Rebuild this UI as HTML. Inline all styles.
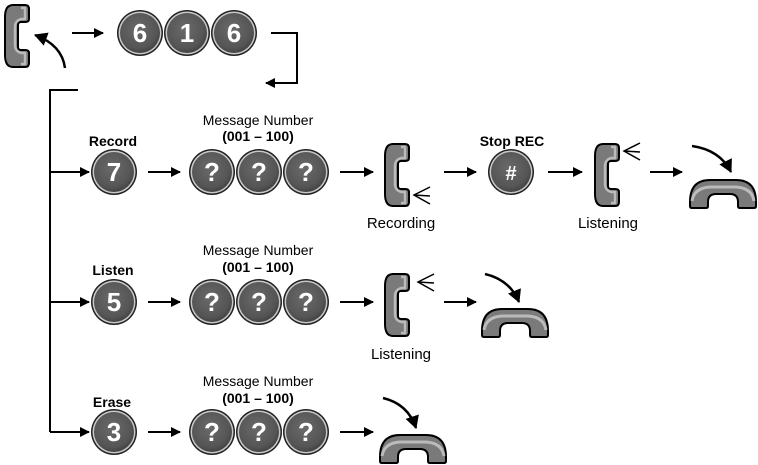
<!DOCTYPE html>
<html><head><style>
html,body{margin:0;padding:0;background:#fff;}
svg{display:block;}
text{font-family:"Liberation Sans",Arial,sans-serif;}
.b{font-weight:bold;font-size:14px;}
.m{font-size:14px;}
.n{font-size:15px;}
.d{font-weight:bold;font-size:26px;fill:#fff;}
</style></head><body>
<svg width="758" height="465" viewBox="0 0 758 465" xmlns="http://www.w3.org/2000/svg">
<defs>
<radialGradient id="g" cx="0.45" cy="0.4" r="0.6">
<stop offset="0" stop-color="#6a6a6a"/><stop offset="0.8" stop-color="#555"/><stop offset="1" stop-color="#444"/>
</radialGradient>
<marker id="ah" markerWidth="10" markerHeight="10" refX="9" refY="5" orient="auto" markerUnits="userSpaceOnUse">
<path d="M0,0 L10,5 L0,10 Z" fill="#000"/></marker>
<marker id="ah2" markerWidth="14" markerHeight="14" refX="12" refY="7" orient="auto" markerUnits="userSpaceOnUse">
<path d="M0,0 L13,7 L0,14 Z" fill="#000"/></marker>
<g id="btn"><circle r="23" fill="#222"/><circle r="21.5" fill="#c8c8c8"/><circle r="20" fill="url(#g)"/></g>
<g id="hs">
<path d="M10,0 H22 Q26,0 26,4 V14 Q26,17 22,17 H18 Q15,17 15,20 V42 Q15,45 18,45 H22 Q26,45 26,48 V58 Q26,62 22,62 H10 Q2,62 2,50 V12 Q2,0 10,0 Z" fill="#7a7a7a" stroke="#000" stroke-width="2"/>
<path d="M18,3 H22 V14 H18 Q12,16 12,22 V40 Q12,46 18,48 H22 V59 H18" fill="none" stroke="#bbb" stroke-width="2.5"/>
</g>
<g id="hu">
<path d="M0,22 Q0,0 20,0 H46 Q66,0 66,22 V26 Q66,28 64,28 H50 Q48,28 48,26 V22 Q48,14 40,14 H26 Q18,14 18,22 V26 Q18,28 16,28 H2 Q0,28 0,26 Z" fill="#7a7a7a" stroke="#000" stroke-width="2"/>
<path d="M2,21 Q4,8 20,7 H46 Q62,8 64,21" fill="none" stroke="#bbb" stroke-width="3"/>
</g>
</defs>

<!-- top -->
<use href="#hs" x="3" y="5"/>
<path d="M65,68 Q62,45 35,35" fill="none" stroke="#000" stroke-width="2.5" marker-end="url(#ah2)"/>
<line x1="72" y1="33" x2="103" y2="33" stroke="#000" stroke-width="2" marker-end="url(#ah)"/>
<use href="#btn" x="140" y="33"/><text class="d" x="140" y="42" text-anchor="middle">6</text>
<use href="#btn" x="187" y="33"/><text class="d" x="187" y="42" text-anchor="middle">1</text>
<use href="#btn" x="234" y="33"/><text class="d" x="234" y="42" text-anchor="middle">6</text>
<polyline points="271,33 297,33 297,83 266,83" fill="none" stroke="#000" stroke-width="2" marker-end="url(#ah)"/>
<polyline points="78,90 50,90 50,432" fill="none" stroke="#000" stroke-width="2"/>

<line x1="50" y1="172" x2="89" y2="172" stroke="#000" stroke-width="2" marker-end="url(#ah)"/>
<line x1="50" y1="302" x2="89" y2="302" stroke="#000" stroke-width="2" marker-end="url(#ah)"/>
<line x1="50" y1="432" x2="89" y2="432" stroke="#000" stroke-width="2" marker-end="url(#ah)"/>

<!-- row 1 -->
<text class="b" x="113" y="146" text-anchor="middle">Record</text>
<use href="#btn" x="114" y="172"/><text class="d" x="114" y="181" text-anchor="middle">7</text>
<line x1="148" y1="172" x2="180" y2="172" stroke="#000" stroke-width="2" marker-end="url(#ah)"/>
<text class="m" x="258" y="125" text-anchor="middle">Message Number</text>
<text class="b" x="258" y="141" text-anchor="middle">(001 – 100)</text>
<use href="#btn" x="212" y="172"/><text class="d" x="212" y="181" text-anchor="middle">?</text>
<use href="#btn" x="259" y="172"/><text class="d" x="259" y="181" text-anchor="middle">?</text>
<use href="#btn" x="306" y="172"/><text class="d" x="306" y="181" text-anchor="middle">?</text>
<line x1="340" y1="172" x2="373" y2="172" stroke="#000" stroke-width="2" marker-end="url(#ah)"/>
<use href="#hs" x="383" y="144"/>
<path d="M430,187 L414,195 L430,204 M414,195 L430,196" fill="none" stroke="#000" stroke-width="1.5"/>
<text class="n" x="401" y="228" text-anchor="middle">Recording</text>
<line x1="444" y1="172" x2="476" y2="172" stroke="#000" stroke-width="2" marker-end="url(#ah)"/>
<text class="b" x="512" y="146" text-anchor="middle">Stop REC</text>
<use href="#btn" x="511" y="172"/><text class="d" x="511" y="180" text-anchor="middle" style="font-size:20px">#</text>
<line x1="548" y1="172" x2="582" y2="172" stroke="#000" stroke-width="2" marker-end="url(#ah)"/>
<use href="#hs" x="593" y="144"/>
<path d="M640,143 L624,151 L640,160 M624,151 L640,152" fill="none" stroke="#000" stroke-width="1.5"/>
<text class="n" x="608" y="228" text-anchor="middle">Listening</text>
<line x1="650" y1="172" x2="682" y2="172" stroke="#000" stroke-width="2" marker-end="url(#ah)"/>
<path d="M692,146 Q720,150 731,172" fill="none" stroke="#000" stroke-width="2.5" marker-end="url(#ah2)"/>
<use href="#hu" x="690" y="180"/>

<!-- row 2 -->
<text class="b" x="113" y="275" text-anchor="middle">Listen</text>
<use href="#btn" x="114" y="302"/><text class="d" x="114" y="311" text-anchor="middle">5</text>
<line x1="148" y1="302" x2="180" y2="302" stroke="#000" stroke-width="2" marker-end="url(#ah)"/>
<text class="m" x="258" y="255" text-anchor="middle">Message Number</text>
<text class="b" x="258" y="272" text-anchor="middle">(001 – 100)</text>
<use href="#btn" x="212" y="302"/><text class="d" x="212" y="311" text-anchor="middle">?</text>
<use href="#btn" x="259" y="302"/><text class="d" x="259" y="311" text-anchor="middle">?</text>
<use href="#btn" x="306" y="302"/><text class="d" x="306" y="311" text-anchor="middle">?</text>
<line x1="340" y1="302" x2="373" y2="302" stroke="#000" stroke-width="2" marker-end="url(#ah)"/>
<use href="#hs" x="383" y="274"/>
<path d="M434,274 L418,282 L434,291 M418,282 L434,283" fill="none" stroke="#000" stroke-width="1.5"/>
<text class="n" x="401" y="359" text-anchor="middle">Listening</text>
<line x1="444" y1="302" x2="476" y2="302" stroke="#000" stroke-width="2" marker-end="url(#ah)"/>
<path d="M485,274 Q510,280 519,302" fill="none" stroke="#000" stroke-width="2.5" marker-end="url(#ah2)"/>
<use href="#hu" x="482" y="309"/>

<!-- row 3 -->
<text class="b" x="112" y="407" text-anchor="middle">Erase</text>
<use href="#btn" x="114" y="432"/><text class="d" x="114" y="441" text-anchor="middle">3</text>
<line x1="148" y1="432" x2="180" y2="432" stroke="#000" stroke-width="2" marker-end="url(#ah)"/>
<text class="m" x="258" y="386" text-anchor="middle">Message Number</text>
<text class="b" x="258" y="403" text-anchor="middle">(001 – 100)</text>
<use href="#btn" x="212" y="432"/><text class="d" x="212" y="441" text-anchor="middle">?</text>
<use href="#btn" x="259" y="432"/><text class="d" x="259" y="441" text-anchor="middle">?</text>
<use href="#btn" x="306" y="432"/><text class="d" x="306" y="441" text-anchor="middle">?</text>
<line x1="340" y1="432" x2="373" y2="432" stroke="#000" stroke-width="2" marker-end="url(#ah)"/>
<path d="M383,398 Q408,404 416,428" fill="none" stroke="#000" stroke-width="2.5" marker-end="url(#ah2)"/>
<use href="#hu" x="380" y="435"/>
</svg>
</body></html>
